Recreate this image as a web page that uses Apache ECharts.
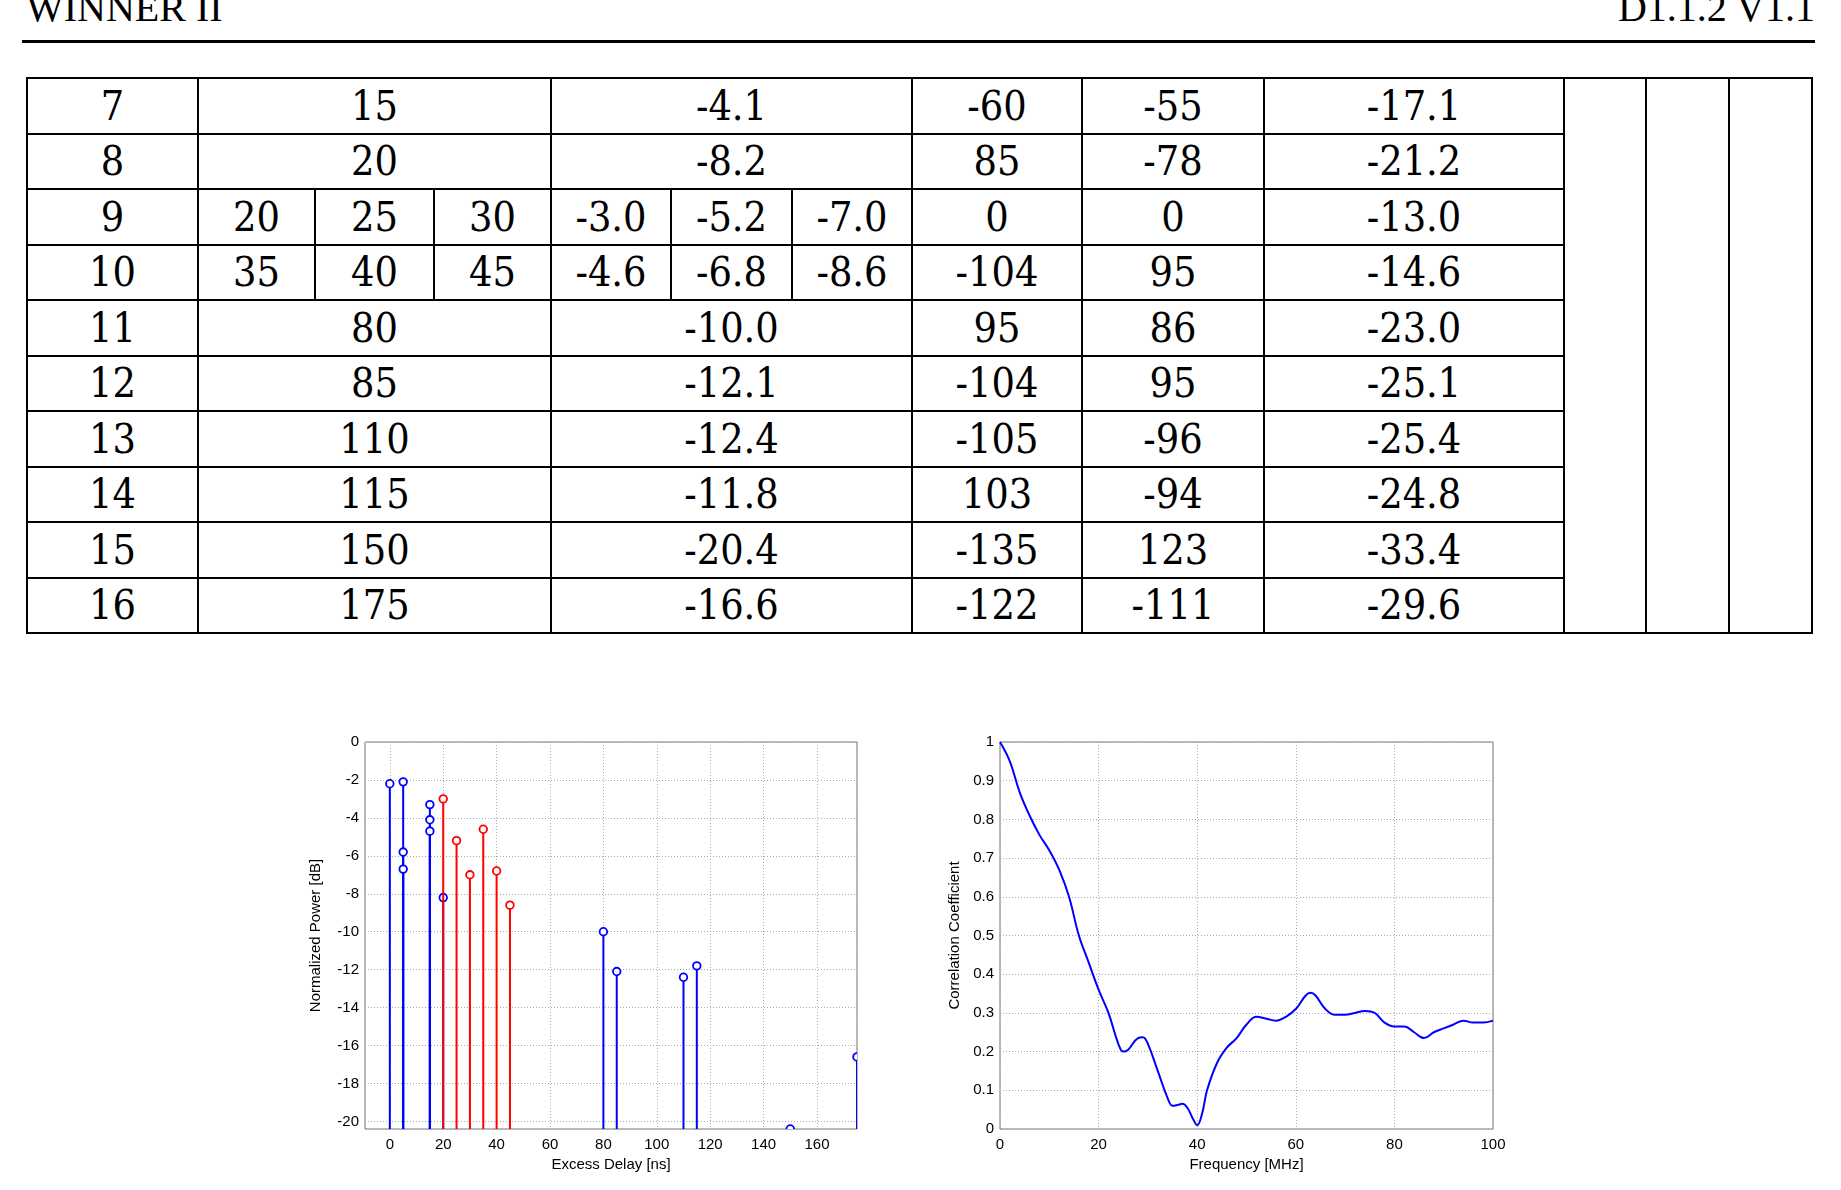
<!DOCTYPE html>
<html><head><meta charset="utf-8">
<script src="https://cdn.jsdelivr.net/npm/echarts@6/dist/echarts.min.js"></script>
<style>
body{margin:0;width:1841px;height:1190px;background:#fff;overflow:hidden;position:relative;font-family:"Liberation Serif",serif}
#hl{position:absolute;left:26px;top:-16px;font-size:40px}
#hr{position:absolute;right:26px;top:-16px;font-size:40px}
#rule{position:absolute;left:22px;width:1793px;top:40px;height:0;border-top:3px solid #000}
table{position:absolute;left:26px;top:77px;border-collapse:collapse;table-layout:fixed}
td{border:2px solid #000;height:53.5px;padding:0;text-align:center;font-size:41px;line-height:52px;font-family:"DejaVu Serif Condensed","Liberation Serif",serif;font-stretch:condensed}
#chart{position:absolute;left:0;top:678px;width:1841px;height:512px}
</style></head><body>
<div id="hl">WINNER II</div><div id="hr">D1.1.2 V1.1</div><div id="rule"></div>
<table id="tbl"></table>
<div id="chart"></div>
<script>
// table rows: [cluster, delays, powers, AoD, AoA, power]
const clusterNo=[7,8,9,10,11,12,13,14,15,16];
const delayCells=[[15],[20],[20,25,30],[35,40,45],[80],[85],[110],[115],[150],[175]];
const powerCells=[["-4.1"],["-8.2"],["-3.0","-5.2","-7.0"],["-4.6","-6.8","-8.6"],["-10.0"],["-12.1"],["-12.4"],["-11.8"],["-20.4"],["-16.6"]];
const aodCol=["-60","85","0","-104","95","-104","-105","103","-135","-122"];
const aoaCol=["-55","-78","0","95","86","95","-96","-94","123","-111"];
const kCol=["-17.1","-21.2","-13.0","-14.6","-23.0","-25.1","-25.4","-24.8","-33.4","-29.6"];
const colWidths=[171,117,119,117,120,121,120,170,182,300,82,83,83];

// stem chart data (excess delay ns, normalized power dB)
const blueDelay=[0,5,5,5,15,15,15,20,80,85,110,115,150,175];
const bluePower=[-2.2,-2.1,-5.8,-6.7,-3.3,-4.1,-4.7,-8.2,-10.0,-12.1,-12.4,-11.8,-20.4,-16.6];
const redDelay=[20,25,30,35,40,45];
const redPower=[-3.0,-5.2,-7.0,-4.6,-6.8,-8.6];
// frequency correlation
const freqMHz=[0,2,4,6,8,10,12,14,16,18,20,22,24,25,26,28,29,30,32,34,35,36,37,38,39,40,41,42,44,46,48,50,52,54,56,58,60,62,63,64,66,68,70,72,74,76,78,80,82,84,86,88,90,92,94,96,98,100];
const corrCoef=[1.0,0.95,0.87,0.81,0.76,0.72,0.67,0.60,0.50,0.43,0.36,0.30,0.22,0.20,0.205,0.235,0.237,0.22,0.15,0.08,0.06,0.062,0.065,0.055,0.03,0.01,0.04,0.10,0.17,0.21,0.235,0.27,0.29,0.285,0.28,0.29,0.31,0.345,0.352,0.345,0.31,0.295,0.295,0.30,0.305,0.30,0.275,0.265,0.265,0.25,0.235,0.25,0.26,0.27,0.28,0.275,0.275,0.28];

const tbl=document.getElementById('tbl');
let html='<colgroup>'+colWidths.map(w=>`<col style="width:${w}px">`).join('')+'</colgroup>';
clusterNo.forEach((c,i)=>{
  html+='<tr><td>'+c+'</td>';
  const d=delayCells[i],p=powerCells[i];
  if(d.length===1)html+=`<td colspan="3">${d[0]}</td>`;else d.forEach(v=>html+=`<td>${v}</td>`);
  if(p.length===1)html+=`<td colspan="3">${p[0]}</td>`;else p.forEach(v=>html+=`<td>${v}</td>`);
  html+=`<td>${aodCol[i]}</td><td>${aoaCol[i]}</td><td>${kCol[i]}</td>`;
  if(i===0)html+='<td rowspan="10"></td><td rowspan="10"></td><td rowspan="10"></td>';
  html+='</tr>';
});
tbl.innerHTML=html;

const chart=echarts.init(document.getElementById('chart'));
const lbl={fontFamily:'Liberation Sans',fontSize:15,color:'#000'};
const grid=(o)=>Object.assign({show:true,borderColor:'#777',borderWidth:1,backgroundColor:'#fff'},o);
const split={show:true,lineStyle:{type:[1,2],color:'#aaa',width:1}};
function stems(xs,ys,color){
  return {type:'custom',xAxisIndex:0,yAxisIndex:0,clip:true,data:xs.map((x,i)=>[x,ys[i]]),
    renderItem:(params,api)=>{
      const top=api.coord([api.value(0),api.value(1)]);
      const bot=api.coord([api.value(0),-20.4]);
      return {type:'group',children:[
        {type:'line',shape:{x1:top[0],y1:top[1],x2:bot[0],y2:bot[1]},style:{stroke:color,lineWidth:2}},
        {type:'circle',shape:{cx:top[0],cy:top[1],r:3.8},style:{stroke:color,fill:'#fff',lineWidth:1.8}}
      ]};
    }};
}
chart.setOption({
  animation:false,
  grid:[grid({left:365,top:64,width:492,height:387}),grid({left:1000,top:64,width:493,height:387})],
  xAxis:[
    {gridIndex:0,type:'value',min:-9.3,max:175,minInterval:20,maxInterval:20,
     name:'Excess Delay [ns]',nameLocation:'middle',nameGap:27,nameTextStyle:lbl,
     axisLine:{show:false},axisTick:{show:false},splitLine:split,
     axisLabel:Object.assign({},lbl,{margin:8,formatter:v=>(Math.abs(v%20)<1e-6&&v>=0&&v<=160)?String(v):''})},
    {gridIndex:1,type:'value',min:0,max:100,interval:20,
     name:'Frequency [MHz]',nameLocation:'middle',nameGap:27,nameTextStyle:lbl,
     axisLine:{show:false},axisTick:{show:false},splitLine:split,axisLabel:Object.assign({},lbl,{margin:8})}
  ],
  yAxis:[
    {gridIndex:0,type:'value',min:-20.4,max:0,minInterval:2,maxInterval:2,
     name:'Normalized Power [dB]',nameLocation:'middle',nameGap:42,nameTextStyle:lbl,
     axisLine:{show:false},axisTick:{show:false},splitLine:split,
     axisLabel:Object.assign({},lbl,{margin:6,formatter:v=>(Math.abs(v%2)<1e-6)?String(v):''})},
    {gridIndex:1,type:'value',min:0,max:1,interval:0.1,
     name:'Correlation Coefficient',nameLocation:'middle',nameGap:38,nameTextStyle:lbl,
     axisLine:{show:false},axisTick:{show:false},splitLine:split,
     axisLabel:Object.assign({},lbl,{margin:6,formatter:v=>String(Math.round(v*10)/10)})}
  ],
  series:[
    stems(blueDelay,bluePower,'#0000ff'),
    stems(redDelay,redPower,'#ff0000'),
    {type:'line',xAxisIndex:1,yAxisIndex:1,data:freqMHz.map((f,i)=>[f,corrCoef[i]]),
     smooth:0.4,symbol:'none',lineStyle:{color:'#0000ff',width:2}}
  ]
});
</script>
</body></html>
